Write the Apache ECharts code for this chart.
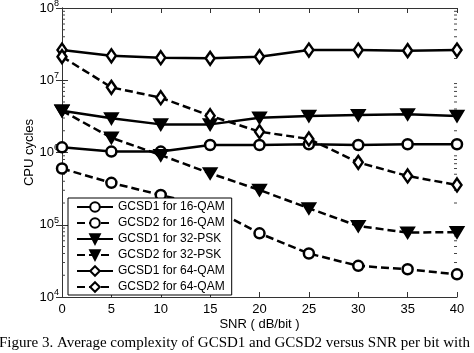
<!DOCTYPE html>
<html><head><meta charset="utf-8">
<script src="https://cdn.jsdelivr.net/npm/echarts@6/dist/echarts.min.js"></script>
<style>html,body{margin:0;padding:0;background:#fff}#c{width:474px;height:353px}</style>
</head><body><div id="c"></div>
<script>
var snr = [0, 5, 10, 15, 20, 25, 30, 35, 40];
var gcsd1_16qam = [1.18e6, 1.03e6, 1.03e6, 1.27e6, 1.27e6, 1.3e6, 1.27e6, 1.3e6, 1.3e6];
var gcsd2_16qam = [6.0e5, 3.8e5, 2.58e5, 1.75e5, 7.6e4, 4.0e4, 2.7e4, 2.42e4, 2.06e4];
var gcsd1_32psk = [3.79e6, 2.97e6, 2.45e6, 2.45e6, 3.03e6, 3.2e6, 3.3e6, 3.38e6, 3.2e6];
var gcsd2_32psk = [3.79e6, 1.6e6, 9.2e5, 5.15e5, 3.03e5, 1.69e5, 9.6e4, 7.8e4, 7.9e4];
var gcsd1_64qam = [2.62e7, 2.18e7, 2.05e7, 2.01e7, 2.12e7, 2.62e7, 2.62e7, 2.57e7, 2.62e7];
var gcsd2_64qam = [2.12e7, 7.98e6, 5.73e6, 3.23e6, 1.94e6, 1.54e6, 7.3e5, 4.73e5, 3.55e5];
var seriesNames = ['GCSD1 for 16-QAM', 'GCSD2 for 16-QAM', 'GCSD1 for 32-PSK', 'GCSD2 for 32-PSK', 'GCSD1 for 64-QAM', 'GCSD2 for 64-QAM'];
var yExponents = [4, 5, 6, 7, 8];
var xTicks = [0, 5, 10, 15, 20, 25, 30, 35, 40];
var caption = 'Figure 3. Average complexity of GCSD1 and GCSD2 versus SNR per bit with';

var minorVals = [];
for (var k = 4; k < 8; k++) for (var m = 2; m <= 9; m++) minorVals.push([0, m * Math.pow(10, k)]);

function pairs(ys) { return snr.map(function (x, i) { return [x, ys[i]]; }); }

var shapes = [
  {data: gcsd1_16qam, dash: 'solid', sym: 'circle', size: 10, rot: 0, fill: '#fff'},
  {data: gcsd2_16qam, dash: [8, 4], sym: 'circle', size: 10, rot: 0, fill: '#fff'},
  {data: gcsd1_32psk, dash: 'solid', sym: 'triangle', size: [12, 10], rot: 180, fill: '#000'},
  {data: gcsd2_32psk, dash: [8, 4], sym: 'triangle', size: [12, 10], rot: 180, fill: '#000'},
  {data: gcsd1_64qam, dash: 'solid', sym: 'diamond', size: [9, 13], rot: 0, fill: '#fff'},
  {data: gcsd2_64qam, dash: [8, 4], sym: 'diamond', size: [9, 13], rot: 0, fill: '#fff'}
];

var series = shapes.map(function (s, i) {
  return {
    name: seriesNames[i], type: 'line', xAxisIndex: 0, yAxisIndex: 0,
    data: pairs(s.data), symbol: s.sym, symbolSize: s.size, symbolRotate: s.rot,
    showAllSymbol: true,
    lineStyle: {color: '#000', width: 2.5, type: s.dash},
    itemStyle: {color: s.fill, borderColor: '#000', borderWidth: 2.5},
    z: 3
  };
});

series.push({
  type: 'custom', xAxisIndex: 0, yAxisIndex: 0, silent: true, clip: false,
  data: minorVals,
  renderItem: function (params, api) {
    var y = api.coord([0, api.value(1)])[1];
    var x0 = params.coordSys.x, x1 = params.coordSys.x + params.coordSys.width;
    return {type: 'group', children: [
      {type: 'line', shape: {x1: x0, y1: y, x2: x0 + 3, y2: y}, style: {stroke: '#444', lineWidth: 1}},
      {type: 'line', shape: {x1: x1, y1: y, x2: x1 - 3, y2: y}, style: {stroke: '#444', lineWidth: 1}}
    ]};
  }
});

var axisLine = {show: true, lineStyle: {color: '#333', width: 1}};
var chart = echarts.init(document.getElementById('c'));
chart.setOption({
  animation: false,
  backgroundColor: '#fff',
  grid: {left: 62, right: 17, top: 8, bottom: 56, containLabel: false, outerBoundsMode: 'none'},
  legend: {
    left: 68, top: 198, orient: 'vertical', backgroundColor: '#fff',
    borderColor: '#000', borderWidth: 1, padding: [3, 7, 2, 8],
    itemWidth: 36, itemHeight: 12, itemGap: 4,
    textStyle: {fontFamily: 'Liberation Sans', fontSize: 12, color: '#000'},
    data: seriesNames
  },
  xAxis: [{
    type: 'value', min: 0, max: 40, interval: 5, position: 'bottom',
    name: 'SNR ( dB/bit )', nameLocation: 'middle', nameGap: 21, nameMoveOverlap: false,
    nameTextStyle: {fontFamily: 'Liberation Sans', fontSize: 13, color: '#000'},
    axisLine: axisLine, axisTick: {inside: true, length: 5, lineStyle: {color: '#333'}},
    axisLabel: {fontFamily: 'Liberation Sans', fontSize: 13, color: '#000', margin: 6},
    splitLine: {show: false}
  }, {
    type: 'value', min: 0, max: 40, interval: 5, position: 'top',
    axisLine: axisLine, axisTick: {inside: true, length: 5, lineStyle: {color: '#333'}},
    axisLabel: {show: false}, splitLine: {show: false}
  }],
  yAxis: [{
    type: 'log', logBase: 10, min: 1e4, max: 1e8, position: 'left',
    name: 'CPU cycles', nameLocation: 'middle', nameGap: 26, nameMoveOverlap: false,
    nameTextStyle: {fontFamily: 'Liberation Sans', fontSize: 13, color: '#000'},
    axisLine: axisLine, axisTick: {inside: true, length: 6, lineStyle: {color: '#333'}},
    axisLabel: {
      margin: 3,
      formatter: function (v) {
        var e = Math.round(Math.log10(v));
        return yExponents.indexOf(e) >= 0 ? '{b|10}{s|' + e + '}' : '';
      },
      rich: {
        b: {fontFamily: 'Liberation Sans', fontSize: 13, color: '#000', lineHeight: 18},
        s: {fontFamily: 'Liberation Sans', fontSize: 9, color: '#000', lineHeight: 9, padding: [0, 0, 9, 0]}
      }
    },
    splitLine: {show: false}
  }, {
    type: 'log', logBase: 10, min: 1e4, max: 1e8, position: 'right',
    axisLine: axisLine, axisTick: {inside: true, length: 6, lineStyle: {color: '#333'}},
    axisLabel: {show: false}, splitLine: {show: false}
  }],
  graphic: [{
    type: 'text', left: -1, top: 336,
    style: {text: caption, font: '15px "Liberation Serif"', fill: '#000'}
  }],
  series: series
});
</script></body></html>
